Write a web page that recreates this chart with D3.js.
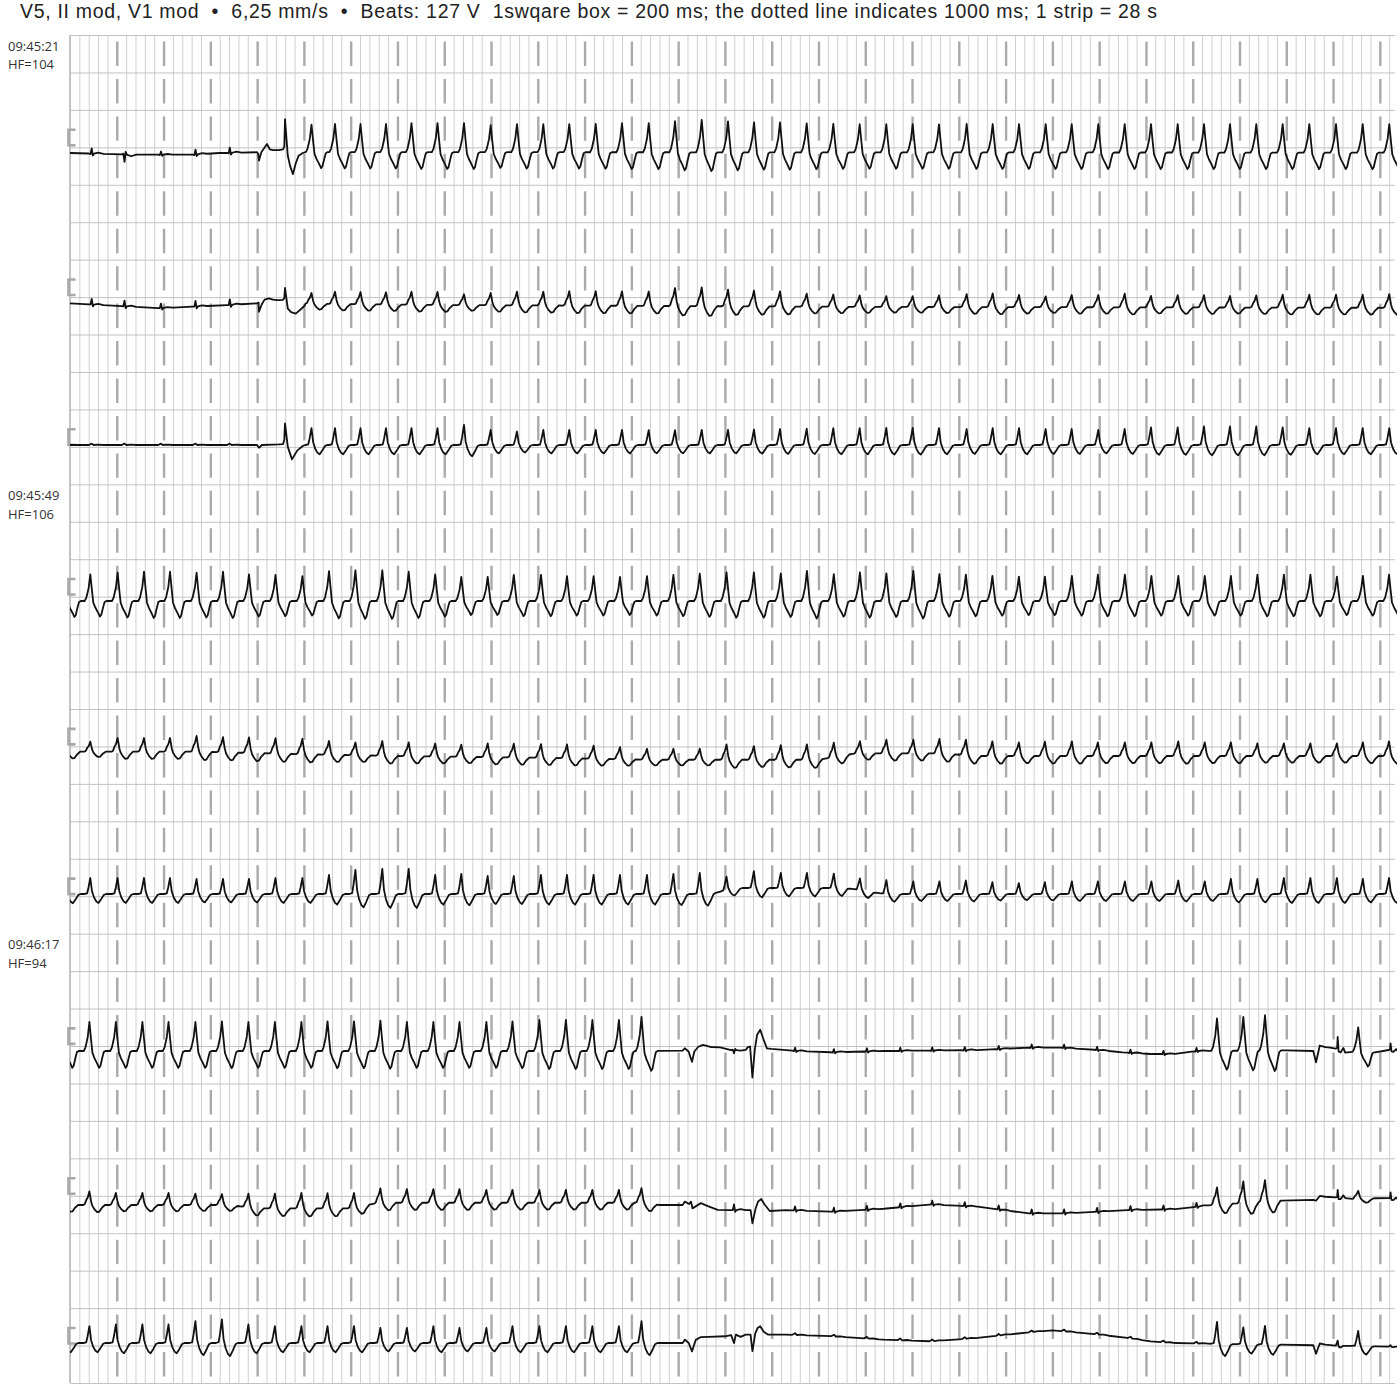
<!DOCTYPE html>
<html>
<head>
<meta charset="utf-8">
<script src="https://cdn.jsdelivr.net/npm/d3@7"></script>
<style>
body { margin: 0; background: #fff; }
svg { display: block; }
</style>
</head>
<body>
<svg id="chart" width="1400" height="1384"></svg>
<script>
// ---- data (time in s from strip start, amplitude in mV) ----
var stripLabels = ['09:45:21', '09:45:49', '09:46:17'];
var hfLabels = ['HF=104', 'HF=106', 'HF=94'];

// strip 1
var times1 = [0.464, 1.165, 1.945, 2.683, 3.416, 4.040, 4.596, 5.162, 5.665, 6.210, 6.755, 7.300, 7.856,
	8.422, 8.993, 9.555, 10.118, 10.673, 11.238, 11.800, 12.371, 12.933, 13.504, 14.066, 14.622, 15.178,
	15.748, 16.317, 16.881, 17.450, 18.014, 18.576, 19.168, 19.724, 20.287, 20.857, 21.413, 21.982, 22.546,
	23.108, 23.679, 24.241, 24.797, 25.359, 25.923, 26.492, 27.063, 27.634, 28.202];
var kinds1 = ('sssssfw' + 'v'.repeat(42)).split('');
var gainV5_1 = [1, -1.4, 0.6, 0.9, 1, 1, 1,
	0.95, 0.97, 0.97, 0.97, 1.0, 1.0,
	1.0, 0.93, 0.97, 0.97, 0.97, 0.98, 1.0, 1.0, 1.07, 1.12, 1.07, 1.03, 1.03, 1.0, 0.98, 0.97, 0.97, 0.97, 0.97,
	0.98, 0.98, 0.98, 0.98, 0.98, 0.98, 0.98, 0.98, 0.98, 0.98, 0.98, 0.98, 0.98, 0.98, 0.98, 0.98, 0.98];
var gainII_1 = [1, 1, 0.8, 1, 1, 1, 1,
	0.75, 0.85, 0.85, 0.85, 0.9, 0.9,
	0.75, 0.85, 0.95, 0.95, 1.0, 1.0, 1.0, 1.0, 1.25, 1.3, 1.15, 1.1, 1.05, 0.9, 0.85, 0.8, 0.75, 0.75, 0.8,
	0.9, 0.95, 0.85, 0.75, 0.85, 0.85, 0.95, 0.8, 0.85, 0.85, 0.8, 0.85, 0.9, 0.9, 0.9, 0.9, 0.95];
var gainV1_1 = [0.5, 0.5, 0.5, 0.5, 0.5, 1, 1,
	1, 1, 1, 1, 1, 1,
	1.2, 0.9, 0.8, 0.9, 0.9, 0.9, 0.9, 0.88, 0.88, 0.9, 0.9, 0.92, 0.95, 0.97, 1.0, 1.0, 1.02, 1.02, 1.0,
	0.95, 1.0, 1.0, 0.95, 0.95, 0.9, 0.95, 1.05, 1.05, 1.1, 1.1, 1.1, 1.05, 1.0, 1.0, 1.0, 1.0];

// strip 2
var times2 = [-0.113, 0.434, 1.018, 1.582, 2.138, 2.706, 3.271, 3.826, 4.393, 4.968, 5.537, 6.101, 6.676,
	7.240, 7.807, 8.365, 8.929, 9.487, 10.068, 10.624, 11.193, 11.757, 12.334, 12.899, 13.463, 14.034,
	14.619, 15.195, 15.753, 16.328, 16.886, 17.452, 18.027, 18.585, 19.151, 19.718, 20.284, 20.840, 21.417,
	21.973, 22.550, 23.117, 23.692, 24.258, 24.816, 25.383, 25.949, 26.516, 27.082, 27.638, 28.196];
var kinds2 = 'v'.repeat(51).split('');
var gainV5_2 = [0.95,
	0.92, 0.98, 1.01, 1.01, 0.98, 1.01, 0.92, 0.9, 0.86, 1.03, 1.06, 1.06, 1.01, 0.92, 0.83, 0.83, 0.9, 0.9, 0.86, 0.86, 0.83, 0.86, 0.9, 0.94,
	0.99, 0.99, 0.95, 1.04, 0.93, 0.99, 0.95, 1.04, 0.93, 0.91, 0.87, 0.84, 0.84, 0.87, 0.91, 0.91, 0.87, 0.87, 0.87, 0.87, 0.91, 0.91, 0.91, 0.84, 0.87, 0.91];
var gainII_2 = [0.9,
	0.7, 0.95, 0.95, 0.95, 1.1, 1.05, 1.07, 1.07, 1.07, 0.95, 0.88, 1.02, 0.95, 0.9, 0.84, 0.95, 0.95, 0.95, 0.95, 0.9, 0.84, 0.76, 0.76, 0.76,
	1.07, 0.95, 1.02, 1.07, 1.0, 0.84, 0.95, 0.95, 1.02, 1.07, 1.02, 0.95, 1.0, 1.02, 0.95, 0.95, 0.95, 1.02, 0.95, 0.95, 0.88, 0.88, 0.88, 0.88, 0.95, 1.02];
var gainV1_2 = [1.0,
	0.95, 0.95, 0.95, 0.95, 0.9, 0.9, 0.9, 0.95, 0.95, 1.13, 1.43, 1.49, 1.49, 1.13, 1.2, 1.07, 1.07, 1.13, 1.13, 1.13, 1.13, 1.13, 1.19, 1.25,
	0.8, 1.0, 0.9, 0.9, 0.85, 0.7, 0.83, 0.75, 0.75, 0.8, 0.7, 0.65, 0.7, 0.75, 0.75, 0.75, 0.75, 0.8, 0.75, 0.9, 0.9, 0.95, 0.95, 0.95, 0.9, 0.95];

// strip 3
var times3 = [-0.158, 0.415, 0.981, 1.548, 2.106, 2.681, 3.247, 3.814, 4.380, 4.947, 5.505, 6.071, 6.635,
	7.202, 7.768, 8.326, 8.901, 9.459, 10.034, 10.601, 11.167, 11.734, 12.217,
	13.296, 14.194, 14.588,
	15.500, 16.330, 17.035, 17.749, 18.433, 19.128, 19.853, 20.558, 21.251, 21.956, 22.670, 23.375, 24.081,
	24.519, 25.082, 25.545, 26.636, 27.099, 27.537, 28.229];
var kinds3 = ('v'.repeat(23) + 'nsp' + 's'.repeat(13) + 'vvvdqvq').split('');
var gainV5_3 = [1.0,
	1.0, 1.0, 1.0, 1.0, 1.0, 1.02, 1.0, 1.0, 1.0, 1.02, 1.02, 1.05, 1.0, 1.0, 1.0, 1.0, 1.02, 1.07, 1.07, 1.07, 1.07, 1.18,
	1, -0.6, 1,
	0.6, 0.6, 0.6, 0.6, 0.6, 0.6, 0.6, 0.6, 0.6, 0.6, 0.6, 0.6, 0.6,
	1.12, 1.17, 1.22, 1, 1, 0.85, 0.55];
var gainII_3 = [0.9,
	0.95, 0.84, 0.84, 0.84, 0.79, 0.76, 0.95, 1.02, 1.07, 1.05, 1.02, 1.0, 0.95, 0.95, 0.95, 0.9, 0.9, 0.9, 0.9, 0.9, 0.9, 1.02,
	1, 1, 1,
	0.7, 0.7, 0.7, 0.7, 0.7, 0.7, 0.7, 0.7, 0.7, 0.7, 0.7, 0.7, 0.7,
	1.2, 1.5, 1.5, 1, 1, 0.55, 0.8];
var gainV1_3 = [1.0,
	1.0, 1.1, 1.1, 1.1, 1.3, 1.4, 1.1, 1.0, 1.0, 1.0, 1.0, 0.9, 0.9, 1.0, 0.9, 0.9, 1.0, 1.0, 1.0, 1.0, 1.0, 1.3,
	1, -3, 1,
	0.6, 0.6, 0.6, 0.6, 0.6, 0.6, 0.6, 0.6, 0.6, 0.6, 0.6, 0.6, 0.6,
	1.3, 1.0, 1.1, 1, 1, 0.9, 0.3];

// baseline wander per trace [s, mV]
var drift1 = [[0, 0], [1.3, -0.09], [2.6, -0.09], [3.2, 0], [4.2, 0.05], [28.4, 0.02]];
var drift2 = [[0, 0.09], [1.9, -0.17], [3.4, 0], [4.0, 0.09], [8, 0], [17, -0.1], [28.4, -0.15]];
var drift3 = [[0, 0], [28.4, 0]];
var drift4 = [[0, 0], [28.4, 0]];
var drift5 = [[0, 0.23], [2.8, 0.23], [4.9, 0.1], [7, 0], [10.3, -0.1], [12.4, -0.2], [16.0, -0.2], [16.8, 0.14], [18.5, 0.14], [19.5, 0], [28.4, 0]];
var drift6 = [[0, 0], [13.7, 0], [14.2, 0.32], [16.6, 0.32], [17.4, 0], [28.4, 0]];
var drift7 = [[0, 0], [12.5, 0], [14.9, 0.07], [16.3, -0.07], [17.4, 0], [19.4, 0.05], [20.5, 0.18], [21.2, 0.18], [22.0, 0.05],
	[22.5, -0.07], [23.1, -0.16], [23.6, -0.16], [24.1, 0], [26.0, 0.03], [27.9, -0.07], [28.4, 0]];
var drift8 = [[0, 0], [3.4, 0], [4.0, -0.18], [6.0, -0.18], [6.6, 0.12], [12.3, 0.12], [12.6, 0], [13.5, 0], [14.1, -0.27],
	[15.3, -0.27], [16.3, -0.36], [17.4, -0.2], [18.4, 0.03], [19.4, -0.09], [19.95, -0.27], [20.5, -0.45], [21.2, -0.45],
	[22.0, -0.36], [22.6, -0.27], [23.6, -0.23], [24.1, -0.09], [24.4, 0], [25.9, 0.23], [27.9, 0.36], [28.4, 0.23]];
var drift9 = [[0, 0], [13.3, 0], [13.5, 0.18], [14.0, 0.36], [14.2, 0.45], [15.3, 0.45], [16.3, 0.36], [17.4, 0.18], [18.4, 0.09],
	[19.4, 0.27], [20.05, 0.45], [20.5, 0.57], [21.0, 0.68], [21.5, 0.57], [22.0, 0.45], [22.6, 0.27], [23.1, 0.09], [23.6, 0],
	[24.4, -0.04], [25.9, -0.09], [27.9, -0.18], [28.4, -0.2]];

// beat shapes per lead [ms from R, mV]
var tplV5 = {
	v: [[-130, 0], [-121, 0], [-86, 0.18], [-64, 0.42], [-36, 0.75], [0, 1.55], [36, 0.6], [64, -0.09], [107, -0.38], [164, -0.66],
		[207, -0.9], [235, -0.8], [271, -0.4], [306, -0.06], [345, 0]],
	s: [[-60, 0], [-25, -0.03], [0, 0.28], [25, -0.1], [50, 0], [140, 0.06], [250, 0]],
	f: [[-40, 0], [-15, -0.1], [0, -0.45], [50, 0], [120, 0.25], [170, 0.43], [230, 0.15], [300, 0.1], [340, 0.1]],
	w: [[-130, 0.1], [-40, 0.15], [-15, 0.3], [0, 1.76], [60, -0.2], [110, -0.75], [170, -1.18], [230, -0.6], [290, -0.2], [380, -0.05]],
	n: [[-200, 0], [-156, 0.13], [-73, -0.05], [0, -0.6], [51, -0.05], [135, 0.2], [237, 0.3], [393, 0.18], [600, 0.15]],
	p: [[-100, 0.15], [-50, 0.18], [0, -1.48], [50, 0], [100, 0.8], [167, 1.07], [230, 0.6], [310, 0.07], [400, 0.05]],
	d: [[-60, 0], [0, -0.6], [80, 0.3], [200, 0.22], [300, 0.2], [420, 0.15]],
	q: [[-40, 0.15], [-12, 0.2], [0, 0.78], [20, 0], [60, -0.05], [120, 0.2], [160, -0.05]]
};
var tplII = {
	v: [[-130, 0], [-100, 0.05], [-64, 0.3], [-36, 0.42], [0, 0.77], [36, 0.2], [64, -0.05], [110, -0.25], [165, -0.4], [210, -0.38],
		[260, -0.18], [330, 0]],
	s: [[-60, 0], [-25, 0], [0, 0.3], [25, -0.1], [50, 0], [140, 0.05], [250, 0]],
	f: [[-40, 0], [-10, 0.05], [0, -0.45], [60, -0.05], [120, 0.2], [210, 0.27], [300, 0.2], [380, 0.18]],
	w: [[-130, 0.18], [-40, 0.2], [-15, 0.3], [0, 0.84], [60, -0.27], [130, -0.45], [230, -0.53], [350, -0.27], [420, -0.1]],
	n: [[-200, 0], [-156, 0.18], [-60, 0.05], [-20, 0.18], [10, -0.18], [190, 0.1], [340, 0], [550, -0.1]],
	p: [[-100, 0], [-40, 0], [0, -0.71], [70, 0.1], [120, 0.45], [188, 0.59], [260, 0.3], [370, -0.05]],
	d: [[-60, 0], [0, -0.05], [80, 0.2], [200, 0.15], [420, 0.1]],
	q: [[-40, 0.1], [-12, 0.12], [0, 0.5], [20, 0], [60, 0], [120, 0.2], [160, 0.05]]
};
var tplV1 = {
	v: [[-130, 0], [-70, 0.03], [-40, 0.35], [0, 0.9], [36, 0.15], [80, -0.2], [130, -0.42], [175, -0.5], [230, -0.3], [290, -0.05], [340, 0]],
	s: [[-60, 0], [0, 0.15], [40, 0], [140, 0.04], [250, 0]],
	f: [[-40, 0], [0, -0.15], [60, 0], [300, 0.02]],
	w: [[-130, 0.03], [-40, 0.05], [-15, 0.3], [0, 1.16], [60, -0.1], [150, -0.77], [260, -0.3], [380, -0.05]],
	n: [[-200, 0], [-150, 0.18], [-70, 0], [0, -0.45], [80, 0.1], [190, 0.15], [350, 0.1]],
	p: [[-100, 0], [-40, 0], [0, -0.89], [60, 0.05], [110, 0.35], [167, 0.45], [240, 0.15], [330, 0]],
	d: [[-60, 0], [0, -0.45], [80, 0.1], [200, 0.05], [420, 0]],
	q: [[-40, 0], [0, 0.27], [20, -0.05], [60, -0.1], [120, 0], [160, 0]]
};

// ---- layout ----
var left = 70, right = 1395, gridTop = 35, gridBottom = 1383;
var pxPerMv = 18.7;
var baseY = [153, 305, 445, 601, 756, 894, 1051, 1205, 1343];

var traces = [
	[times1, kinds1, gainV5_1, tplV5, drift1], [times1, kinds1, gainII_1, tplII, drift2], [times1, kinds1, gainV1_1, tplV1, drift3],
	[times2, kinds2, gainV5_2, tplV5, drift4], [times2, kinds2, gainII_2, tplII, drift5], [times2, kinds2, gainV1_2, tplV1, drift6],
	[times3, kinds3, gainV5_3, tplV5, drift7], [times3, kinds3, gainII_3, tplII, drift8], [times3, kinds3, gainV1_3, tplV1, drift9]
];

var svg = d3.select('#chart');
var x = d3.scaleLinear().domain([0, (right - left) / 46.78]).range([left, right]);
var rowY = d3.scaleLinear().domain([0, 36]).range([gridTop, gridBottom]);
var rowH = rowY(1) - rowY(0);

// fine vertical grid (200 ms)
var fineTicks = d3.range(1, 142).map(function(k) { return k * 0.2; })
	.filter(function(t) { return t < x.domain()[1] && Math.abs(t - Math.round(t)) > 0.01; });
var gFine = svg.append('g')
	.attr('transform', 'translate(0,' + gridTop + ')')
	.call(d3.axisTop(x).tickValues(fineTicks).tickSize(-(gridBottom - gridTop)).tickFormat(''));
gFine.select('.domain').remove();
gFine.selectAll('line').attr('stroke', '#cfcfcf').attr('stroke-width', 1);

// horizontal grid
var gRows = svg.append('g')
	.attr('transform', 'translate(' + left + ',0)')
	.call(d3.axisLeft(rowY).tickValues(d3.range(0, 37)).tickSize(-(right - left)).tickFormat(''));
gRows.select('.domain').remove();
gRows.selectAll('line').attr('stroke', '#c2c2c2').attr('stroke-width', 1);

// dotted 1000 ms lines, one dash per row
var gap = 6.5;
var gSec = svg.append('g')
	.attr('transform', 'translate(0,' + gridTop + ')')
	.call(d3.axisTop(x).tickValues(d3.range(1, 29)).tickSize(-(gridBottom - gridTop)).tickFormat(''));
gSec.select('.domain').remove();
gSec.selectAll('line')
	.attr('stroke', '#aaaaaa')
	.attr('stroke-width', 2.4)
	.attr('stroke-dasharray', (rowH - 2 * gap) + ',' + (2 * gap))
	.attr('stroke-dashoffset', rowH - gap);

// left border
svg.append('line')
	.attr('x1', left).attr('x2', left).attr('y1', gridTop).attr('y2', gridBottom)
	.attr('stroke', '#b4b4b4').attr('stroke-width', 1.6);

// calibration marks
d3.range(9).forEach(function(i) {
	var top = rowY(4 * i + 2.53);
	svg.append('path')
		.attr('d', 'M75.5,' + top + 'H68.5V' + (top + 15.5) + 'H75.5')
		.attr('fill', 'none')
		.attr('stroke', '#a8a8a8')
		.attr('stroke-width', 2.6);
});

svg.append('clipPath').attr('id', 'clip')
	.append('rect').attr('x', left).attr('y', 0).attr('width', right - left + 2).attr('height', 1384);

function buildPoints(times, kinds, gains, tpl, drift) {
	var wander = d3.scaleLinear()
		.domain(drift.map(function(d) { return d[0]; }))
		.range(drift.map(function(d) { return d[1]; }))
		.clamp(true);
	var pts = [];
	var spans = [];
	times.forEach(function(t0, i) {
		var shape = tpl[kinds[i]];
		var g = gains[i] === undefined ? 1 : gains[i];
		shape.forEach(function(p) { pts.push([t0 + p[0] / 1000, p[1] * g]); });
		spans.push([t0 + shape[0][0] / 1000, t0 + shape[shape.length - 1][0] / 1000]);
	});
	var knots = drift.map(function(d) { return d[0]; }).concat([-0.4, 28.7]);
	knots.forEach(function(t) {
		var inside = spans.some(function(s) { return t >= s[0] && t <= s[1]; });
		if (!inside) pts.push([t, 0]);
	});
	pts.sort(function(a, b) { return a[0] - b[0]; });
	return pts.map(function(p) { return [p[0], p[1] + wander(p[0])]; });
}

var gTraces = svg.append('g').attr('clip-path', 'url(#clip)');
traces.forEach(function(tr, i) {
	var y = d3.scaleLinear().domain([0, 1]).range([baseY[i], baseY[i] - pxPerMv]);
	var line = d3.line()
		.x(function(d) { return x(d[0]); })
		.y(function(d) { return y(d[1]); });
	gTraces.append('path')
		.datum(buildPoints(tr[0], tr[1], tr[2], tr[3], tr[4]))
		.attr('d', line)
		.attr('fill', 'none')
		.attr('stroke', '#111')
		.attr('stroke-width', 1.8)
		.attr('stroke-linejoin', 'round');
});

// strip labels
stripLabels.forEach(function(lab, s) {
	var y0 = rowY(12 * s);
	svg.append('text').attr('x', 8).attr('y', y0 + 15.7).text(lab)
		.attr('font-family', 'Open Sans, Noto Sans, sans-serif').attr('font-size', 13).attr('fill', '#333');
	svg.append('text').attr('x', 8).attr('y', y0 + 34.2).text(hfLabels[s])
		.attr('font-family', 'Open Sans, Noto Sans, sans-serif').attr('font-size', 13).attr('fill', '#333');
});

// title
svg.append('text')
	.attr('x', 20).attr('y', 18)
	.attr('font-family', 'Liberation Sans, Arial, sans-serif')
	.attr('font-size', 19.5)
	.attr('fill', '#222')
	.attr('textLength', 1137)
	.attr('lengthAdjust', 'spacing')
	.style('white-space', 'pre')
	.text('V5, II mod, V1 mod  \u2022  6,25 mm/s  \u2022  Beats: 127 V  1swqare box = 200 ms; the dotted line indicates 1000 ms; 1 strip = 28 s');
</script>
</body>
</html>
